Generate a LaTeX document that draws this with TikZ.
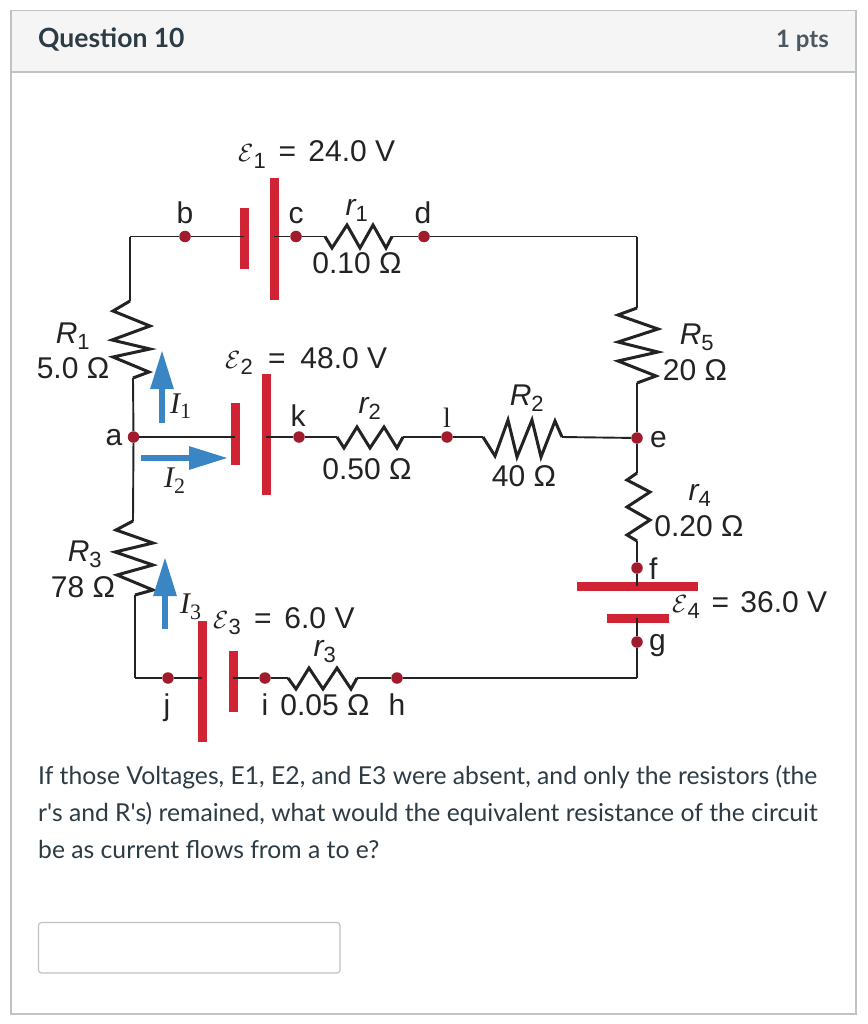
\documentclass[tikz,border=0pt]{standalone}
\usepackage{fontspec}
\setmainfont{Liberation Sans}
\newfontfamily\lato{Lato}
\newfontfamily\serifl{Liberation Serif}
\DeclareMathSizes{30}{31}{22}{16}
\definecolor{platered}{RGB}{208,36,52}
\definecolor{dotred}{RGB}{160,28,44}
\definecolor{arrowblue}{RGB}{58,134,196}
\definecolor{inkgrey}{RGB}{45,59,69}
\definecolor{ruleline}{RGB}{190,195,198}
\definecolor{headfill}{RGB}{245,245,245}
\definecolor{wire}{RGB}{35,35,35}
\newcommand{\subs}[1]{\textsubscript{\upshape #1}}
% number, value, extra space round the equals sign
\newcommand{\emf}[3]{$\mathcal{E}$\subs{#1}\hspace{#3} = \hspace{#3}#2}
\tikzset{
  wdot/.style={circle,fill=dotred,inner sep=0pt,minimum size=11.5pt},
  hplate/.style={rectangle,fill=platered,inner sep=0pt,minimum height=9pt},
  vplate/.style={rectangle,fill=platered,inner sep=0pt,minimum width=9pt},
  lbl/.style={anchor=base,text=wire,font=\fontsize{30}{30}\selectfont,inner sep=0pt},
  lblw/.style={lbl,anchor=base west},
  current/.style={-{Triangle[length=39pt,width=22pt]},arrowblue,line width=6pt},
  res/.style={wire,line width=3pt,line join=miter},
  body/.style={anchor=base west,text=inkgrey,inner sep=0pt,font=\lato\fontsize{24.7}{24.7}\selectfont}
}
\usetikzlibrary{arrows.meta}
\begin{document}
\begin{tikzpicture}[x=1pt,y=-1pt]

        \useasboundingbox (0,0) rectangle (867,1024);

        % frame and header
        \path[fill=white] (0,0) rectangle (867,1024);
        \path[draw=ruleline,line width=1.3pt,fill=headfill] (11,10.5) rectangle (856,72);
        \path[draw=ruleline,line width=1.3pt] (11,72) rectangle (856,1014);
        \path[draw=ruleline,line width=1.2pt,fill=white,rounded corners=3pt] (38.5,922.5) rectangle (340,973);
        \node[body,font=\lato\bfseries\fontsize{26.5}{26.5}\selectfont] (title) at (38,48) {Question 10};
        \node[body,anchor=base east,font=\lato\bfseries\fontsize{24}{24}\selectfont,text=inkgrey!85] (pts) at (829,48) {1 pts};

        % junctions
        \begin{scope}[every node/.style={wdot}]
          \node (a) at (133.5,437) {};
          \node (b) at (185,236.5) {};
          \node (c) at (296,236.5) {};
          \node (d) at (424,236.5) {};
          \node (e) at (637,438) {};
          \node (f) at (637,568) {};
          \node (g) at (637,642) {};
          \node (h) at (397,678) {};
          \node (i) at (265,678) {};
          \node (j) at (168,678) {};
          \node (k) at (299,437) {};
          \node (l) at (447,437) {};
        \end{scope}

        % batteries
        \begin{scope}[every node/.style={vplate}]
          \node[minimum height=61pt]  (e1neg) at (244,238.5) {};
          \node[minimum height=122pt] (e1pos) at (274,239) {};
          \node[minimum height=62pt]  (e2neg) at (235,434) {};
          \node[minimum height=121pt] (e2pos) at (266,434.5) {};
          \node[minimum height=121pt] (e3pos) at (202,681.5) {};
          \node[minimum height=61pt]  (e3neg) at (233,681.5) {};
        \end{scope}
        \node[hplate,minimum width=121pt] (e4pos) at (637.5,586) {};
        \node[hplate,minimum width=62pt]  (e4neg) at (638,618) {};

        % ends of the resistors and corners
        \coordinate (cornertl) at (130,236.5);
        \coordinate (cornertr) at (637,236.5);
        \coordinate (cornerbl) at (135,678);
        \coordinate (cornerbr) at (637,678);
        \coordinate (rone1) at (130,301);
        \coordinate (rone2) at (133,378);
        \coordinate (rthree1) at (133,521);
        \coordinate (rthree2) at (135,595);
        \coordinate (rfive1) at (637,308);
        \coordinate (rfive2) at (637,383);
        \coordinate (rtwo1) at (483,437);
        \coordinate (rtwo2) at (562,437);
        \coordinate (sone1) at (325,236.5);
        \coordinate (sone2) at (392,236.5);
        \coordinate (stwo1) at (337,437);
        \coordinate (stwo2) at (403,437);
        \coordinate (sthree1) at (288,678);
        \coordinate (sthree2) at (357,678);
        \coordinate (sfour1) at (637,473);
        \coordinate (sfour2) at (637,541);

        % wires
        \begin{scope}[every edge/.style={draw=wire,line width=1.9pt}]
          \path (b) edge (b -| e1neg);
          \path (c -| e1pos) edge (c);
          \path (c) edge (sone1);
          \path (sone2) edge (d);
          \path (d) edge (cornertr);
          \path (cornertr) edge (rfive1);
          \path (rfive2) edge (e);
          \path (b) edge (cornertl);
          \path (cornertl) edge (rone1);
          \path (rone2) edge (a);
          \path (a) edge (a -| e2neg);
          \path (k -| e2pos) edge (k);
          \path (k) edge (stwo1);
          \path (stwo2) edge (l);
          \path (l) edge (rtwo1);
          \path (rtwo2) edge (e);
          \path (a) edge (rthree1);
          \path (rthree2) edge (cornerbl);
          \path (cornerbl) edge (j);
          \path (j) edge (j -| e3pos);
          \path (i -| e3neg) edge (i);
          \path (i) edge (sthree1);
          \path (sthree2) edge (h);
          \path (h) edge (cornerbr);
          \path (cornerbr) edge (g);
          \path (g) edge (g |- e4neg);
          \path (f |- e4pos) edge (f);
          \path (f) edge (sfour2);
          \path (sfour1) edge (e);
        \end{scope}

        % resistors
        \draw[res] (rone1) -- (113,311) -- (150,326) -- (112,340) -- (150,349) -- (113,357) -- (149,372) -- (rone2);
        \draw[res] (rthree1) -- (116,530) -- (153,543) -- (115,552) -- (153,565) -- (117,575) -- (153,590) -- (rthree2);
        \draw[res] (rfive1) -- (618,315) -- (658,329) -- (618,342) -- (658,352) -- (618,361) -- (656,376) -- (rfive2);
        \draw[res] (rtwo1) -- (495,456) -- (508,420) -- (517,457) -- (532,420) -- (541,457) -- (555,421) -- (rtwo2);
        \draw[res] (sone1) -- (332,248) -- (347,225) -- (360,248) -- (373,225) -- (386,248) -- (sone2);
        \draw[res] (stwo1) -- (344,448) -- (357,427) -- (370,448) -- (384,427) -- (397,448) -- (stwo2);
        \draw[res] (sthree1) -- (296,689) -- (309,668) -- (323,689) -- (337,668) -- (351,689) -- (sthree2);
        \draw[res] (sfour1) -- (627,480) -- (650,492) -- (627,507) -- (650,520) -- (627,535) -- (sfour2);

        % currents
        \coordinate (ione1) at (162,423);
        \coordinate (ione2) at (162,350);
        \coordinate (itwo1) at (141,458);
        \coordinate (itwo2) at (228,458);
        \coordinate (ithree1) at (165,629);
        \coordinate (ithree2) at (165,557);
        \draw[current] (ione1) -- (ione2);
        \draw[current] (itwo1) -- (itwo2);
        \draw[current] (ithree1) -- (ithree2);

        % labels
        \begin{scope}[every node/.style={lbl}]
          \node (la) at (114,445) {a};
          \node (lb) at (185,223) {b};
          \node (lc) at (296,223) {c};
          \node (ld) at (423,224) {d};
          \node (lh) at (397,715) {h};
          \node (li) at (265,715) {i};
          \node (lj) at (167,715) {j};
          \node (lk) at (298,426) {k};
          \node[font=\serifl\fontsize{28}{28}\selectfont] (ll) at (447,427) {l};
          \node (lr1) at (357,215) {\itshape r\subs{1}};
          \node (lv1) at (357,273) {0.10 Ω};
          \node (lr2) at (370,413) {\itshape r\subs{2}};
          \node (lv2) at (367,479) {0.50 Ω};
          \node (lr3) at (325,656) {\itshape r\subs{3}};
          \node (lv3) at (325,715) {0.05 Ω};
          \node (lr4) at (700,500) {\itshape r\subs{4}};
          \node (lv4) at (699,536) {0.20 Ω};
          \node (lrr1) at (73,343) {\itshape R\subs{1}};
          \node (lvr1) at (73,378) {5.0 Ω};
          \node (lrr2) at (527,405) {\itshape R\subs{2}};
          \node (lvr2) at (524,486) {40 Ω};
          \node (lrr3) at (85,561) {\itshape R\subs{3}};
          \node (lvr3) at (83,597) {78 Ω};
          \node (lrr5) at (697,344) {\itshape R\subs{5}};
          \node (lvr5) at (695,380) {20 Ω};
        \end{scope}
        \begin{scope}[every node/.style={lblw}]
          \node (le) at (650,447) {e};
          \node (lf) at (649,579) {f};
          \node (lg) at (649,650) {g};
          \node (li1) at (170,413) {\serifl\itshape I\subs{1}};
          \node (li2) at (164,487) {\serifl\itshape I\subs{2}};
          \node (li3) at (180,613) {\serifl\itshape I\subs{3}};
          \node (le1) at (238,162) {\emf{1}{24.0 V}{4pt}};
          \node (le2) at (225,368) {\emf{2}{48.0 V}{6.5pt}};
          \node (le3) at (213,628) {\emf{3}{6.0 V}{4.5pt}};
          \node (le4) at (672,612) {\emf{4}{36.0 V}{3pt}};
        \end{scope}

        % question
        \begin{scope}[every node/.style={body}]
          \node (line1) at (38,784) {If those Voltages, E1, E2, and E3 were absent, and only the resistors (the};
          \node (line2) at (38,821) {r's and R's) remained, what would the equivalent resistance of the circuit};
          \node (line3) at (38,858) {be as current flows from a to e?};
        \end{scope}

      \end{tikzpicture}
\end{document}
